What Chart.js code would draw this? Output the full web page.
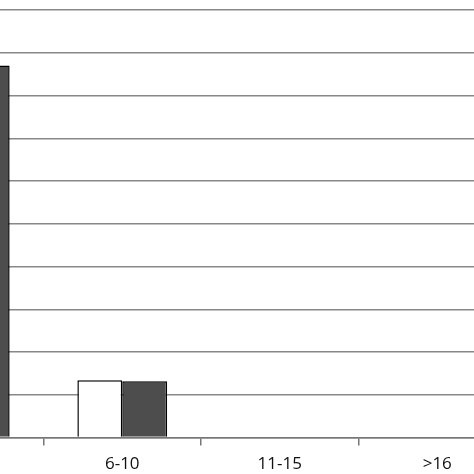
<!DOCTYPE html>
<html>
<head>
<script src="https://cdn.jsdelivr.net/npm/chart.js@4"></script>
<style>
  html, body { margin: 0; padding: 0; overflow: hidden; background: #fff; }
  #wrap { position: absolute; left: -114px; top: 0; width: 630px; height: 482px; }
</style>
</head>
<body>
<div id="wrap"><canvas id="chart"></canvas></div>
<script>
const categories = ['0-5', '6-10', '11-15', '>16'];
const whiteValues = [9.0, 1.34, 0, 0];
const darkValues = [8.7, 1.32, 0, 0];

const ctx = document.getElementById('chart');

new Chart(ctx, {
  type: 'bar',
  data: {
    labels: categories,
    datasets: [{
      data: whiteValues,
      backgroundColor: '#ffffff',
      borderColor: '#000000',
      borderWidth: 1.5,
      categoryPercentage: 0.57,
      barPercentage: 1.0
    }, {
      data: darkValues,
      backgroundColor: '#4d4d4d',
      borderColor: '#000000',
      borderWidth: 1.5,
      categoryPercentage: 0.57,
      barPercentage: 1.0
    }]
  },
  options: {
    responsive: true,
    maintainAspectRatio: false,
    animation: false,
    layout: { padding: { top: 10, left: 0, right: 0, bottom: 0 } },
    plugins: { legend: { display: false }, tooltip: { enabled: false } },
    scales: {
      x: {
        grid: { display: true, drawOnChartArea: false, offset: true, tickLength: 8, color: '#777', lineWidth: 1.5 },
        border: { display: true, color: '#777', width: 1.5 },
        ticks: { color: '#111', font: { family: 'Open Sans', size: 17 }, padding: 8 }
      },
      y: {
        min: 0, max: 10,
        ticks: { display: false, stepSize: 1 },
        grid: { color: '#888', lineWidth: 1.5, drawTicks: false },
        border: { display: false }
      }
    }
  }
});
</script>
</body>
</html>
